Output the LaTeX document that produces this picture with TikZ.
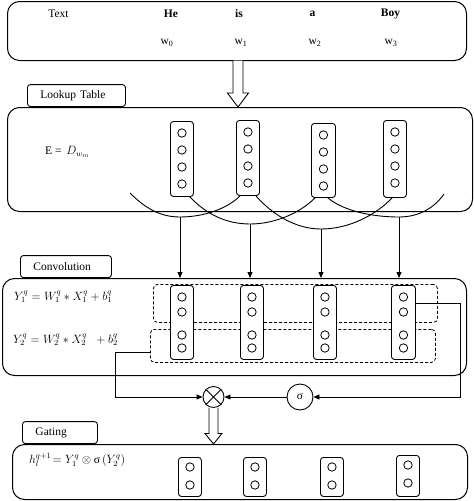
\documentclass[tikz,border=0pt]{standalone}
\usepackage{fontspec}
\setmainfont{Liberation Serif}
\usetikzlibrary{calc,arrows.meta}
\newcommand{\lblfont}{\fontsize{11.5}{13}\selectfont}
\begin{document}
\begin{tikzpicture}[x=1pt,y=-1pt,
 bigbox/.style={draw, line width=1pt, rounded corners=12pt, inner sep=0pt, anchor=north west},
 tabbox/.style={draw, line width=0.9pt, rounded corners=3pt, anchor=south west, inner xsep=13pt, inner ysep=0pt, minimum height=22pt, align=left, font=\lblfont},
 vecbox/.style={draw, fill=white, line width=0.9pt, rounded corners=3pt, inner sep=0pt, anchor=north west},
 unit/.style={draw, circle, line width=0.8pt, minimum size=8.4pt, inner sep=0pt},
 dashbox/.style={draw, dash pattern=on 3pt off 2pt, rounded corners=4pt, line width=0.8pt, anchor=north west, inner sep=0pt},
 lbl/.style={font=\lblfont, inner sep=0pt},
 wordb/.style={font=\lblfont\bfseries, inner sep=0pt},
 wire/.style={line width=0.9pt},
 arr/.style={wire, -{Triangle[length=6pt,width=5pt]}},
 hollow/.style={draw, fill=white, line width=0.9pt, line join=miter},
 opcirc/.style={draw, circle, line width=0.9pt, inner sep=0pt}
]
\useasboundingbox (0,0) rectangle (474,501);

% ---------- boxes and tabs ----------
\node[bigbox, minimum width=459pt, minimum height=59pt] (top) at (7,1) {};
\node[tabbox, text width=72pt] (lt) at (27,107) {Lookup Table};
\node[bigbox, minimum width=465pt, minimum height=104pt] (lookup) at (7,107) {};
\node[tabbox, text width=65pt] (ct) at (20,278) {Convolution};
\node[bigbox, minimum width=464pt, minimum height=97pt] (conv) at (2,278) {};
\node[tabbox, text width=49pt] (gt) at (22,444) {Gating};
\node[bigbox, minimum width=455pt, minimum height=55pt] (gate) at (12,444) {};

% ---------- top texts ----------
\node[lbl] (ttext) at (58.5,14) {Text};
\node[wordb] (he) at (171,14) {He};
\node[wordb] (is) at (239,14) {is};
\node[wordb] (aa) at (312.5,14) {a};
\node[wordb] (boy) at (390.5,14) {Boy};
\node[lbl] (w0) at (167,43) {w\textsubscript{0}};
\node[lbl] (w1) at (241,43) {w\textsubscript{1}};
\node[lbl] (w2) at (315,43) {w\textsubscript{2}};
\node[lbl] (w3) at (391,43) {w\textsubscript{3}};

% ---------- lookup table ----------
\node[lbl, anchor=west] (eqE) at (45,152) {E = \,$D_{w_m}$};
\node[vecbox, minimum width=23pt, minimum height=75pt] (l1) at (170,121) {};
\node[vecbox, minimum width=23pt, minimum height=75pt] (l2) at (236,120) {};
\node[vecbox, minimum width=24pt, minimum height=74pt] (l3) at (311,123) {};
\node[vecbox, minimum width=23pt, minimum height=77pt] (l4) at (383,120) {};
\foreach \v in {l1,l2,l3,l4}{
  \foreach \o [count=\k] in {12,29,46,63}{
    \node[unit] (\v u\k) at ($(\v.north)+(0,\o)$) {};
  }
}

% ---------- arcs ----------
\coordinate (a0) at (130,193);
\coordinate (a5) at (444,194);
\coordinate (m1) at (180,217);
\coordinate (m2) at (250,224);
\coordinate (m3) at (321,229);
\coordinate (m4) at (399,217);
\draw[wire] (a0) .. controls (145,208) and (160,217) .. (m1)
  .. controls (205,217) and (228,208) .. ($(l2.south west)+(4,0)$);
\draw[wire] ($(l1.south east)+(-4,0)$) .. controls (205,213) and (225,224) .. (m2)
  .. controls (275,224) and (300,213) .. ($(l3.south west)+(4,0)$);
\draw[wire] ($(l2.south east)+(-4,0)$) .. controls (272,214) and (295,229) .. (m3)
  .. controls (350,229) and (377,214) .. ($(l4.south west)+(9,0)$);
\draw[wire] ($(l3.south east)+(-8,0)$) .. controls (345,212) and (375,217) .. (m4)
  .. controls (420,217) and (435,207) .. (a5);
\foreach \m in {m1,m2,m3,m4}{
  \draw[arr] (\m) -- (\m |- conv.north);
}

% ---------- convolution ----------
\node[lbl, anchor=west] (eqY1) at (14,297) {$Y_1^q = W_1^q \ast X_1^q + b_1^q$};
\node[lbl, anchor=west] (eqY2) at (13,340) {$Y_2^q = W_2^q \ast X_2^q\;\; + b_2^q$};
\node[dashbox, minimum width=284pt, minimum height=38pt] (d1) at (153,284) {};
\node[dashbox, minimum width=285pt, minimum height=33pt] (d2) at (150,329) {};
\node[vecbox, minimum width=23pt, minimum height=74pt] (c1) at (170,285) {};
\node[vecbox, minimum width=23pt, minimum height=74pt] (c2) at (240,285) {};
\node[vecbox, minimum width=23pt, minimum height=74pt] (c3) at (313,285) {};
\node[vecbox, minimum width=24pt, minimum height=74pt] (c4) at (391,285) {};
\foreach \v in {c1,c2,c3,c4}{
  \foreach \o [count=\k] in {12,27,50,63}{
    \node[unit] (\v u\k) at ($(\v.north)+(0,\o)$) {};
  }
}

% ---------- gating operators ----------
\node[opcirc, minimum size=21pt] (ot) at (213.5,397) {};
\draw[wire] (ot.north west) -- (ot.south east) (ot.north east) -- (ot.south west);
\node[opcirc, minimum size=26pt, font=\lblfont] (sig) at (300,397) {σ};
\coordinate (rc) at (460,397);
\coordinate (lc) at (115,397);
\draw[arr] ($(c4.north east)+(0,18)$) -| (rc) -- (sig.east);
\draw[arr] (sig.west) -- (ot.east);
\draw[arr] ($(d2.south west)+(0,-10)$) -| (lc) -- (ot.west);

% ---------- gating ----------
\node[lbl, anchor=west] (eqH) at (29,460) {$h_l^{q+1}\!= Y_1^q \otimes \mbox{σ}\,(Y_2^q)$};
\node[vecbox, minimum width=23pt, minimum height=39pt] (g1) at (178,457) {};
\node[vecbox, minimum width=23pt, minimum height=39pt] (g2) at (243,457) {};
\node[vecbox, minimum width=23pt, minimum height=39pt] (g3) at (320,457) {};
\node[vecbox, minimum width=23pt, minimum height=41pt] (g4) at (396,455) {};
\foreach \v in {g1,g2,g3,g4}{
  \foreach \o [count=\k] in {10,28}{
    \node[unit] (\v u\k) at ($(\v.north)+(0,\o)$) {};
  }
}

% ---------- hollow arrows ----------
\coordinate (h1) at (238,60.5);
\draw[hollow] ($(h1)+(-5,0)$) -- ($(h1)+(-5,32.5)$) -- ($(h1)+(-10.5,32.5)$)
  -- (h1 |- lookup.north) -- ($(h1)+(10.5,32.5)$) -- ($(h1)+(5,32.5)$) -- ($(h1)+(5,0)$);
\draw[hollow] ($(ot.south)+(-4.5,0)$) -- ($(ot.south)+(-4.5,25.5)$) -- ($(ot.south)+(-8.5,25.5)$)
  -- (ot.south |- gate.north) -- ($(ot.south)+(8.5,25.5)$) -- ($(ot.south)+(4.5,25.5)$) -- ($(ot.south)+(4.5,0)$);
\end{tikzpicture}
\end{document}
